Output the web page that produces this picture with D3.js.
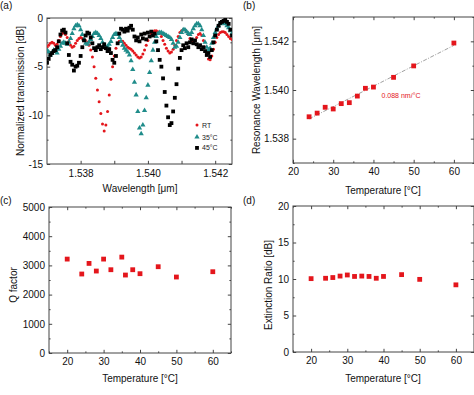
<!DOCTYPE html>
<html>
<head>
<meta charset="utf-8">
<script src="https://cdn.jsdelivr.net/npm/d3@7"></script>
<style>
  body { margin: 0; background: #fff; }
  svg { font-family: "Liberation Sans", Arial, sans-serif; }
  .tick line { stroke: #444; }
  .tick text { fill: #111; font-size: 10px; }
</style>
</head>
<body>
<svg id="fig" width="474" height="395"></svg>
<script>
// ---- (a) transmission spectra, sampled every 0.05 nm from 1.537 um
const wlStart = 1.537, wlStep = 0.00005;
const specRT = [-3.0,-2.8,-2.6,-2.5,-2.6,-2.8,-2.7,-2.3,-1.9,-1.6,-1.5,-1.7,-2.0,-2.4,-2.8,-3.0,-2.9,-2.6,-2.3,-2.1,
  -2.0,-2.1,-2.2,-2.3,-2.5,-2.8,-3.3,-4.0,-5.0,-6.2,-7.4,-8.6,-9.8,-10.9,-11.6,-11.0,-9.6,-7.9,-6.3,-5.0,
  -3.9,-3.1,-2.6,-2.4,-2.4,-2.4,-2.6,-2.8,-3.0,-3.1,-3.2,-3.4,-3.6,-3.8,-4.0,-4.1,-4.0,-3.7,-3.3,-2.8,
  -2.3,-1.9,-1.6,-1.4,-1.3,-1.3,-1.4,-1.6,-1.9,-2.3,-2.7,-3.1,-3.4,-3.6,-3.5,-3.2,-2.8,-2.3,-1.9,-1.5,
  -1.3,-1.2,-1.2,-1.4,-1.7,-2.1,-2.4,-2.5,-2.3,-2.0,-1.7,-1.6,-1.8,-2.3,-3.0,-3.7,-4.2,-4.3,-3.9,-3.2,
  -2.5,-2.0,-1.7,-1.5,-1.4,-1.4,-1.5,-1.7,-1.9,-2.1,-2.2];
const spec35 = [-3.3,-3.5,-3.8,-3.6,-3.3,-3.4,-3.6,-3.2,-2.9,-2.6,-2.5,-2.6,-2.7,-2.5,-2.1,-1.6,-1.1,-0.8,-0.7,-0.8,
  -1.2,-1.7,-2.2,-2.6,-2.7,-2.5,-2.2,-1.9,-1.6,-1.5,-1.6,-1.8,-2.1,-2.5,-2.8,-3.0,-2.9,-2.7,-2.4,-2.0,
  -1.7,-1.6,-1.7,-2.0,-2.4,-2.8,-3.1,-3.3,-3.5,-3.8,-4.4,-5.3,-6.6,-7.9,-9.6,-11.3,-11.9,-11.0,-9.5,-8.2,
  -6.9,-5.6,-4.4,-3.3,-2.5,-1.9,-1.6,-1.5,-1.5,-1.6,-1.7,-1.8,-1.9,-2.0,-2.2,-2.6,-3.0,-2.9,-2.5,-2.0,
  -1.5,-1.2,-1.2,-1.4,-1.6,-1.7,-1.5,-1.1,-0.8,-0.6,-0.6,-0.8,-1.2,-1.8,-2.5,-3.0,-3.3,-3.1,-2.6,-2.0,
  -1.5,-1.1,-0.8,-0.6,-0.5,-0.5,-0.6,-0.8,-1.0,-1.3,-1.6];
const spec45 = [-4.6,-4.2,-3.8,-3.6,-3.4,-3.3,-3.0,-2.4,-1.7,-1.3,-1.2,-1.5,-2.6,-3.8,-4.5,-4.8,-5.4,-5.0,-4.9,-4.6,
  -3.9,-3.0,-2.3,-1.8,-1.5,-1.6,-2.0,-2.6,-3.1,-3.3,-3.0,-2.8,-3.2,-3.0,-2.7,-3.1,-3.4,-3.2,-3.6,-4.3,
  -4.6,-3.9,-2.6,-1.6,-1.1,-1.2,-1.4,-1.1,-1.3,-1.0,-0.8,-1.2,-1.9,-2.3,-2.0,-2.4,-1.7,-2.1,-1.6,-2.2,
  -1.5,-1.9,-1.4,-1.8,-1.6,-2.4,-3.3,-4.3,-5.0,-6.2,-7.6,-9.0,-10.2,-11.0,-10.8,-9.6,-8.2,-6.8,-5.2,-4.1,
  -3.3,-2.8,-3.1,-2.6,-3.0,-2.5,-2.2,-2.6,-2.3,-2.7,-3.0,-2.8,-3.2,-3.0,-3.4,-3.8,-3.6,-4.0,-3.3,-2.5,
  -1.8,-1.2,-0.8,-0.5,-0.4,-0.3,-0.2,-0.4,-0.6,-1.2,-1.8];
const legendNames = ["RT", "35°C", "45°C"];

// ---- (b) resonance wavelength
const resTemp = [24, 26, 28, 30, 32, 34, 36, 38, 40, 45, 50, 60];
const resWl = [1.5389, 1.53905, 1.53929, 1.53922, 1.53944, 1.53948, 1.53975, 1.54007, 1.54012, 1.54052, 1.54099, 1.54193];

// ---- (c) Q factor
const qTemp = [20, 24, 26, 28, 30, 32, 35, 36, 38, 40, 45, 50, 60];
const qVal = [3216, 2705, 3068, 2807, 3216, 2852, 3284, 2670, 2852, 2716, 2955, 2602, 2784];

// ---- (d) extinction ratio
const erTemp = [20, 24, 26, 28, 30, 32, 34, 36, 38, 40, 45, 50, 60];
const erVal = [10.05, 10.1, 10.2, 10.4, 10.55, 10.35, 10.4, 10.35, 10.1, 10.35, 10.6, 9.95, 9.2];

const red = "#e4161c", teal = "#1f8c8a";
const svg = d3.select("#fig");

function side(g, axisFn, scale, major, minor, fmt, tr, pad) {
    if (minor) {
        g.append("g").attr("transform", tr)
         .call(axisFn(scale).tickValues(minor).tickSize(-1.6).tickFormat(""))
         .call(s => s.select(".domain").remove());
    }
    g.append("g").attr("transform", tr)
     .call(axisFn(scale).tickValues(major).tickSize(-3.2).tickPadding(pad || 4).tickFormat(fmt || ""))
     .call(s => s.select(".domain").remove());
}

function panel(box, xDom, yDom, t) {
    let g = svg.append("g").attr("transform", "translate(" + box.x + "," + box.y + ")");
    let x = d3.scaleLinear().domain(xDom).range([0, box.w]);
    let y = d3.scaleLinear().domain(yDom).range([box.h, 0]);
    side(g, d3.axisBottom, x, t.xMaj, t.xMin, t.xFmt, "translate(0," + box.h + ")", t.xPad);
    side(g, d3.axisTop, x, t.xMaj, t.xMin, null, "translate(0,0)");
    side(g, d3.axisLeft, y, t.yMaj, t.yMin, t.yFmt, "translate(0,0)", 4);
    side(g, d3.axisRight, y, t.yMaj, t.yMin, null, "translate(" + box.w + ",0)");
    g.append("rect").attr("width", box.w).attr("height", box.h)
     .attr("fill", "none").attr("stroke", "#444").attr("stroke-width", 1);
    return {g: g, x: x, y: y};
}

function label(txt, x, y, opts) {
    opts = opts || {};
    let t = svg.append("text").attr("font-size", opts.size || 10).attr("fill", opts.fill || "#111")
        .attr("text-anchor", opts.anchor || "middle").text(txt);
    if (opts.rot) t.attr("transform", "translate(" + x + "," + y + ") rotate(-90)");
    else t.attr("x", x).attr("y", y);
    return t;
}

// ---------- (a)
let A = panel({x: 47, y: 18, w: 185, h: 146}, [1.537, 1.5425], [-15, 0], {
    xMaj: [1.538, 1.539, 1.540, 1.541, 1.542],
    xFmt: d => Math.round(d * 1000) % 2 === 0 ? d3.format(".3f")(d) : "",
    xPad: 6,
    yMaj: [0, -5, -10, -15], yMin: [-2.5, -7.5, -12.5],
    yFmt: d => String(d)
});
svg.append("clipPath").attr("id", "clipA").append("rect").attr("width", 185).attr("height", 146);
let dotsA = A.g.append("g").attr("clip-path", "url(#clipA)");
let wl = d3.range(specRT.length).map(i => wlStart + i * wlStep);

dotsA.selectAll("circle.rt").data(specRT).join("circle").attr("class", "rt")
    .attr("cx", (d, i) => A.x(wl[i])).attr("cy", d => A.y(d)).attr("r", 1.5).attr("fill", red);
let tri = d3.symbol().type(d3.symbolTriangle).size(12);
dotsA.selectAll("path.t35").data(spec35).join("path").attr("class", "t35")
    .attr("d", tri).attr("fill", teal)
    .attr("transform", (d, i) => "translate(" + A.x(wl[i]) + "," + A.y(d) + ")");
dotsA.selectAll("rect.t45").data(spec45).join("rect").attr("class", "t45")
    .attr("x", (d, i) => A.x(wl[i]) - 1.9).attr("y", d => A.y(d) - 1.9)
    .attr("width", 3.8).attr("height", 3.8).attr("fill", "#000");

// legend
let lg = A.g.append("g").attr("transform", "translate(150,107)");
lg.append("circle").attr("cx", 0).attr("cy", 0).attr("r", 1.5).attr("fill", red);
lg.append("path").attr("d", tri).attr("fill", teal).attr("transform", "translate(0,12)");
lg.append("rect").attr("x", -1.9).attr("y", 21).attr("width", 3.8).attr("height", 3.8).attr("fill", "#000");
legendNames.forEach((n, i) => {
    lg.append("text").attr("x", 5).attr("y", [0, 12, 22.9][i] + 2.5)
      .attr("font-size", 7).attr("fill", "#222").text(n);
});

label("(a)", 0, 9, {anchor: "start"});
label("Normalized transmission [dB]", 24, 91, {rot: true});
label("Wavelength [μm]", 140, 192);

// ---------- (b)
let B = panel({x: 293, y: 17, w: 181, h: 146}, [20, 65], [1.537, 1.543], {
    xMaj: [20, 30, 40, 50, 60], xMin: [25, 35, 45, 55], xFmt: d => d, xPad: 5,
    yMaj: [1.538, 1.540, 1.542], yMin: [1.537, 1.539, 1.541, 1.543],
    yFmt: d3.format(".3f")
});
// linear fit
let mx = d3.mean(resTemp), my = d3.mean(resWl);
let slope = d3.sum(resTemp, (t, i) => (t - mx) * (resWl[i] - my)) / d3.sum(resTemp, t => (t - mx) * (t - mx));
let fit = t => my + slope * (t - mx);
B.g.append("line")
    .attr("x1", B.x(24)).attr("y1", B.y(fit(24)))
    .attr("x2", B.x(60)).attr("y2", B.y(fit(60)))
    .attr("stroke", "#888").attr("stroke-width", 0.8).attr("stroke-dasharray", "4,1.5,1,1.5");
B.g.selectAll("rect.pt").data(resTemp).join("rect").attr("class", "pt")
    .attr("x", (d) => B.x(d) - 2.4).attr("y", (d, i) => B.y(resWl[i]) - 2.4)
    .attr("width", 4.8).attr("height", 4.8).attr("fill", red);
label("0.088 nm/°C", 401, 98, {size: 7, fill: red});

label("(b)", 243, 9, {anchor: "start"});
label("Resonance Wavelength [μm]", 260, 90, {rot: true});
label("Temperature [°C]", 383, 194);

// ---------- (c)
let C = panel({x: 49, y: 207, w: 182, h: 146}, [15, 65], [0, 5000], {
    xMaj: [20, 30, 40, 50, 60], xMin: [15, 25, 35, 45, 55, 65], xFmt: d => d, xPad: 5,
    yMaj: [0, 1000, 2000, 3000, 4000, 5000], yMin: [500, 1500, 2500, 3500, 4500],
    yFmt: d => d
});
C.g.selectAll("rect.pt").data(qTemp).join("rect").attr("class", "pt")
    .attr("x", d => C.x(d) - 2.4).attr("y", (d, i) => C.y(qVal[i]) - 2.4)
    .attr("width", 4.8).attr("height", 4.8).attr("fill", red);

label("(c)", 0, 204, {anchor: "start"});
label("Q factor", 17, 285, {rot: true});
label("Temperature [°C]", 140, 382);

// ---------- (d)
let D = panel({x: 293, y: 206, w: 181, h: 146}, [15, 65], [0, 20], {
    xMaj: [20, 30, 40, 50, 60], xMin: [15, 25, 35, 45, 55, 65], xFmt: d => d, xPad: 5,
    yMaj: [0, 5, 10, 15, 20], yMin: [2.5, 7.5, 12.5, 17.5],
    yFmt: d => d
});
D.g.selectAll("rect.pt").data(erTemp).join("rect").attr("class", "pt")
    .attr("x", d => D.x(d) - 2.4).attr("y", (d, i) => D.y(erVal[i]) - 2.4)
    .attr("width", 4.8).attr("height", 4.8).attr("fill", red);

label("(d)", 243, 204, {anchor: "start"});
label("Extinction Ratio [dB]", 272, 285, {rot: true});
label("Temperature [°C]", 383, 382);
</script>
</body>
</html>
